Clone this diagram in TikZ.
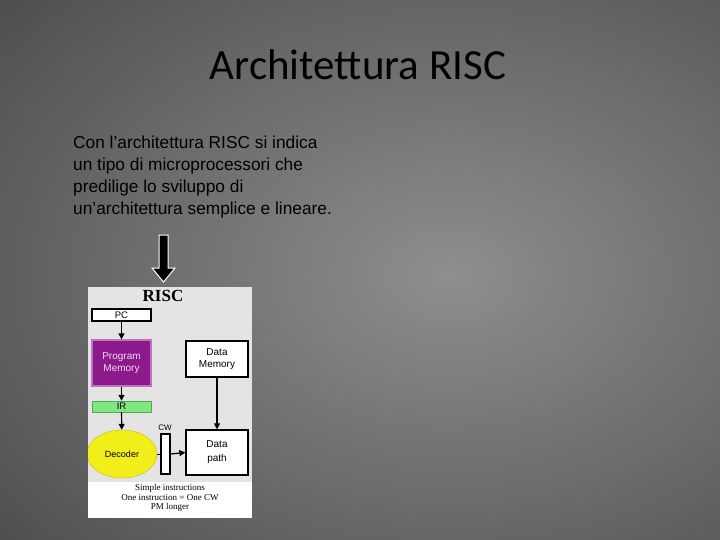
\documentclass[tikz,border=0pt]{standalone}
\usepackage{fontspec}
\setmainfont{Liberation Sans}[Ligatures=ResetAll]
\newfontfamily\titlefont{Carlito}
\newfontfamily\serifx{Liberation Serif}
\usetikzlibrary{shapes.geometric,arrows.meta}
\definecolor{bgin}{HTML}{8E8E90}
\definecolor{bgout}{HTML}{3E3E40}
\definecolor{panel}{HTML}{E4E4E4}
\definecolor{pmem}{HTML}{8C1A8C}
\definecolor{irg}{HTML}{7FE87F}
\definecolor{dec}{HTML}{F2EE1A}
\begin{document}
\begin{tikzpicture}[x=1pt,y=-1pt,
  blk/.style={draw=black,line width=1.3pt,fill=white,font=\fontsize{9.5}{11}\selectfont,align=center,inner sep=0pt},
  arr/.style={-{Triangle[length=6pt,width=6pt]},line width=1.2pt}]
\useasboundingbox (0,0) rectangle (720,540);
\shade[inner color=bgin,outer color=bgout] (-300,-250) rectangle (1200,800);
\node[font=\titlefont\fontsize{43}{48}\selectfont,text=black] (title) at (358,65) {Architettura RISC};
\node[anchor=north west,align=left,font=\fontsize{17.3}{22}\selectfont,text=black,inner sep=0pt] (body) at (73,136)
 {Con l’architettura RISC si indica\\un tipo di microprocessori che\\predilige lo sviluppo di\\un'architettura semplice e lineare.};
% big arrow
\fill[black,draw=white,line width=1pt] (159,235) -- (168,235) -- (168,268) -- (175,268) -- (163.5,282) -- (152,268) -- (159,268) -- cycle;
% panel
\fill[white] (88,287) rectangle (252,518);
\fill[panel] (88,287) rectangle (252,482);
\begin{scope}
\clip (88,287) rectangle (252,518);
\node[ellipse,draw=dec!80!black,fill=dec,minimum width=70,minimum height=48,inner sep=0pt,font=\fontsize{9}{10}\selectfont] (decoder) at (122,454) {Decoder};
\end{scope}
\node[font=\serifx\bfseries\fontsize{17}{18}\selectfont,inner sep=0pt] (risc) at (163,296) {RISC};
\node[blk,minimum width=59,minimum height=12] (pc) at (121.5,315) {PC};
\node[blk,draw=pmem!60!white,fill=pmem,text=white!85!pmem,minimum width=59,minimum height=46,font=\fontsize{10}{12}\selectfont] (pm) at (121.5,363) {Program\\Memory};
\node[blk,draw=irg!70!black,line width=0.5pt,fill=irg,minimum width=59,minimum height=11] (ir) at (121.5,406.5) {IR};
\node[blk,minimum width=62,minimum height=36,font=\fontsize{10}{12}\selectfont] (dm) at (217,359) {Data\\Memory};
\node[blk,minimum width=62,minimum height=45,font=\fontsize{10}{14}\selectfont] (dp) at (217,452.5) {Data\\path};
\node[blk,minimum width=9,minimum height=40] (cw) at (165.5,454) {};
\node[font=\fontsize{8}{9}\selectfont,inner sep=0pt] (cwl) at (165,428) {CW};
\draw[arr] (pc) -- (pm);
\draw[arr] (pm) -- (ir);
\draw[arr] (ir) -- (decoder);
\draw[arr] (dm) -- (dp);
\draw[line width=1pt] (decoder.east) -- (cw.west);
\draw[arr] (cw.east) -- (dp.west);
\node[font=\serifx\fontsize{9}{9.7}\selectfont,align=center,inner sep=0pt] (notes) at (170,498)
 {Simple instructions\\One instruction = One CW\\PM longer};
\end{tikzpicture}
\end{document}
